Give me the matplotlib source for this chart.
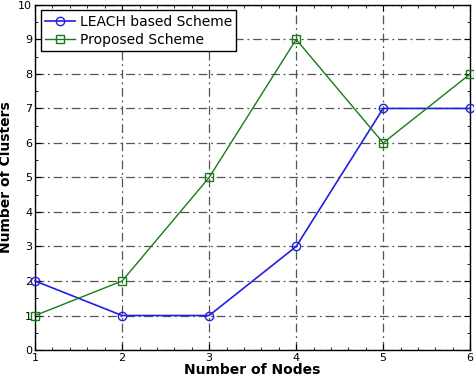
import matplotlib
matplotlib.use("Agg")
import matplotlib.pyplot as plt
from matplotlib.ticker import MultipleLocator

nodes = [1, 2, 3, 4, 5, 6]
leach = [2, 1, 1, 3, 7, 7]
proposed = [1, 2, 5, 9, 6, 8]

fig = plt.figure(figsize=(4.74, 3.78), dpi=100)
ax = fig.add_axes([0.074, 0.074, 0.918, 0.913])

ax.plot(nodes, leach, color="#2020e0", marker="o", markersize=6, markerfacecolor="none",
        markeredgecolor="#2020e0", linewidth=1.2, label="LEACH based Scheme", clip_on=False, zorder=3)
ax.plot(nodes, proposed, color="#1a7a1a", marker="s", markersize=6, markerfacecolor="none",
        markeredgecolor="#1a7a1a", linewidth=1.0, label="Proposed Scheme", clip_on=False, zorder=3)

ax.set_xlim(1, 6)
ax.set_ylim(0, 10)
ax.xaxis.set_major_locator(MultipleLocator(1))
ax.xaxis.set_minor_locator(MultipleLocator(0.2))
ax.yaxis.set_major_locator(MultipleLocator(1))
ax.yaxis.set_minor_locator(MultipleLocator(0.5))
ax.tick_params(which="both", direction="in", top=True, right=True, labelsize=8, pad=2)
ax.tick_params(which="major", length=4)
ax.tick_params(which="minor", length=2)
ax.grid(True, which="major", linestyle=(0, (7, 3, 1.5, 3)), color="#555555", linewidth=0.9)
for s in ax.spines.values():
    s.set_linewidth(1.0)

ax.set_xlabel("Number of Nodes", fontsize=10, fontweight="bold", labelpad=0)
ax.set_ylabel("Number of Clusters", fontsize=10, fontweight="bold", labelpad=4)

leg = ax.legend(loc="upper left", bbox_to_anchor=(0.0, 1.0), fontsize=10, frameon=True, fancybox=False,
                edgecolor="black", framealpha=1, handlelength=2.2, borderpad=0.3, labelspacing=0.3,
                handletextpad=0.3, borderaxespad=0.4)
leg.get_frame().set_linewidth(1.0)

fig.savefig("out.png", dpi=100)
